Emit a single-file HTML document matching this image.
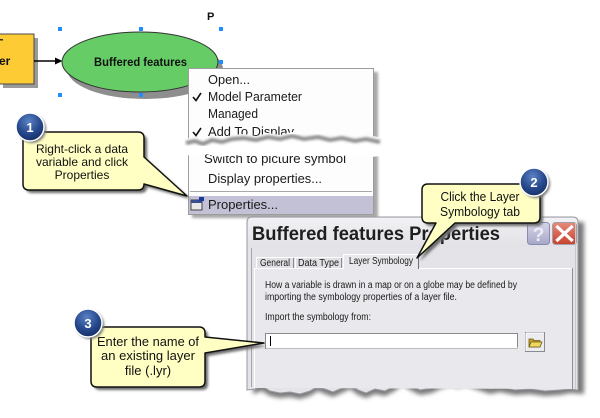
<!DOCTYPE html>
<html><head><meta charset="utf-8"><style>
html,body{margin:0;padding:0;background:#fff;}
svg{display:block;}
text{font-family:"Liberation Sans",Arial,sans-serif;}
</style></head><body>
<svg width="600" height="418" viewBox="0 0 600 418" xmlns="http://www.w3.org/2000/svg">
<defs>
<filter id="blur2" x="-20%" y="-20%" width="140%" height="140%"><feGaussianBlur stdDeviation="2"/></filter>
<filter id="blur1" x="-20%" y="-20%" width="140%" height="140%"><feGaussianBlur stdDeviation="1.2"/></filter>
<radialGradient id="cg" cx="45%" cy="30%" r="75%">
<stop offset="0" stop-color="#5a82c4"/><stop offset="0.6" stop-color="#24468a"/><stop offset="1" stop-color="#142c60"/>
</radialGradient>
<linearGradient id="tb" x1="0" y1="0" x2="0" y2="1"><stop offset="0" stop-color="#f2f2f5"/><stop offset="1" stop-color="#e1e1e6"/></linearGradient>
<linearGradient id="hb" x1="0" y1="0" x2="0" y2="1"><stop offset="0" stop-color="#d6d6ea"/><stop offset="1" stop-color="#a7a7c8"/></linearGradient>
<linearGradient id="xb" x1="0" y1="0" x2="0" y2="1"><stop offset="0" stop-color="#e88a7a"/><stop offset="1" stop-color="#c8402e"/></linearGradient>
</defs>

<!-- Yellow tool box -->
<rect x="3" y="38" width="35" height="50" fill="#9a9a9a"/>
<rect x="-2" y="34" width="36" height="50" fill="#fdcb34" stroke="#4a4a4a" stroke-width="1"/>
<rect x="0" y="39" width="3" height="1.5" fill="#333"/>
<text x="-1" y="65" font-size="12" font-weight="bold" fill="#111">er</text>
<line x1="34" y1="61" x2="56" y2="61" stroke="#000" stroke-width="1.6"/>
<polygon points="55,57.5 62.5,61 55,64.5" fill="#000"/>

<!-- Ellipse -->
<ellipse cx="145" cy="69" rx="78" ry="30" fill="#8e8e8e"/>
<ellipse cx="140" cy="62" rx="78" ry="30" fill="#66cc66" stroke="#333" stroke-width="1"/>
<text x="94" y="66" font-size="11.5" font-weight="bold" fill="#111" textLength="93" lengthAdjust="spacingAndGlyphs">Buffered features</text>
<g fill="#1e8fff">
<rect x="58" y="27" width="4" height="4"/><rect x="139" y="27" width="4" height="4"/><rect x="219" y="27" width="4" height="4"/>
<rect x="58" y="93" width="4" height="4"/><rect x="139" y="93" width="4" height="4"/><rect x="219" y="60" width="4" height="4"/>
</g>
<text x="207" y="20" font-size="11" font-weight="bold" fill="#111">P</text>

<!-- Context menu -->
<rect x="192" y="72" width="186" height="146" fill="#a8a8a8" filter="url(#blur1)"/>
<rect x="188.5" y="68.5" width="185" height="146" fill="#fdfdfd" stroke="#9c9c9c" stroke-width="1"/>
<g font-size="12.5" fill="#1a1a1a">
<text x="208" y="84" textLength="42" lengthAdjust="spacingAndGlyphs">Open...</text>
<text x="208" y="101" textLength="94" lengthAdjust="spacingAndGlyphs">Model Parameter</text>
<text x="208" y="118" textLength="50" lengthAdjust="spacingAndGlyphs">Managed</text>
<text x="208" y="136" textLength="86" lengthAdjust="spacingAndGlyphs">Add To Display</text>
<text x="204" y="163" textLength="142" lengthAdjust="spacingAndGlyphs">Switch to picture symbol</text>
<text x="208" y="183" textLength="114" lengthAdjust="spacingAndGlyphs">Display properties...</text>
</g>
<g stroke="#111" stroke-width="1.6" fill="none">
<path d="M193,97 L196,100.5 L201,93"/>
<path d="M193,132 L196,135.5 L201,128"/>
</g>
<line x1="190" y1="191.5" x2="372" y2="191.5" stroke="#a8a8a8" stroke-width="1"/>
<line x1="190" y1="192.5" x2="372" y2="192.5" stroke="#ffffff" stroke-width="1"/>
<rect x="189" y="196" width="184" height="18" fill="#c3c1d5"/>
<text x="208" y="209" font-size="12.5" fill="#1a1a1a" textLength="70" lengthAdjust="spacingAndGlyphs">Properties...</text>
<rect x="191" y="200" width="11" height="10" fill="#e8e8e8" stroke="#444" stroke-width="1"/>
<rect x="191" y="200" width="11" height="3" fill="#3a4e8c"/>
<rect x="199" y="197" width="5" height="4" fill="#1a3a9a"/>
<!-- torn band -->
<path d="M184,139 L195,137 L203,140 L212,136 L222,138 L232,135 L244,134 L256,136 L268,133 L280,135 L292,132 L304,135 L318,133 L330,136 L342,134 L355,137 L366,135 L384,138 L384,156 L368,157 L355,155 L340,156 L325,154 L310,156 L295,155 L280,157 L265,154 L250,156 L235,155 L220,157 L205,154 L195,156 L184,155 Z" fill="#ffffff"/>
<path d="M186,143 L195,141 L203,144 L212,140 L222,142 L232,139 L244,138 L256,140 L268,137 L280,139 L292,136 L304,139 L318,137 L330,140 L342,138 L355,141 L366,139 L380,142" fill="none" stroke="#8e8e8e" stroke-width="4" filter="url(#blur1)"/>

<!-- Dialog shadow -->
<path d="M253,222 L584,222 L584,394 L570,393 L560,395 L545,396 L530,394 L515,395 L500,392 L490,394 L478,390 L466,386 L458,388 L450,386 L440,389 L432,393 L420,395 L410,390 L402,385 L395,391 L385,396 L375,394 L366,398 L358,395 L350,389 L342,393 L333,397 L325,394 L318,391 L310,396 L300,399 L290,397 L280,398 L270,396 L262,391 L253,394 Z" fill="#7a7a7a" filter="url(#blur2)"/>
<!-- Dialog body -->
<path d="M247,390 L247,222 Q247,217 252,217 L573,217 Q578,217 578,222 L578,390 L570,389 L560,390 L545,391 L530,389 L515,390 L500,387 L490,389 L478,385 L466,381 L458,383 L450,381 L440,384 L432,388 L420,390 L410,385 L402,380 L395,386 L385,391 L375,389 L366,393 L358,390 L350,384 L342,388 L333,392 L325,389 L318,386 L310,391 L300,394 L290,392 L280,393 L270,391 L262,386 L255,389 Z" fill="#e3e3e8" stroke="#9a9aa2" stroke-width="1"/>
<path d="M248,247 L248,222 Q248,218 252,218 L573,218 Q577,218 577,222 L577,247 Z" fill="url(#tb)"/>
<line x1="251.5" y1="248" x2="251.5" y2="387" stroke="#a6a6ae" stroke-width="1"/>
<text x="252" y="240" font-size="19" font-weight="bold" fill="#1e1e1e" textLength="248" lengthAdjust="spacingAndGlyphs">Buffered features Properties</text>
<!-- title buttons -->
<rect x="527.5" y="222.5" width="22" height="22" rx="3" fill="url(#hb)" stroke="#8a8ab0" stroke-width="1"/>
<text x="538.5" y="241" font-size="19" font-weight="bold" fill="#eeeef6" text-anchor="middle">?</text>
<rect x="552.5" y="222.5" width="24" height="22" rx="3" fill="url(#xb)" stroke="#a0a0a8" stroke-width="1"/>
<path d="M557.5,227 L571.5,240 M571.5,227 L557.5,240" stroke="#ffffff" stroke-width="3.2" stroke-linecap="square"/>
<!-- panel -->
<path d="M254,388 L254,268 L573,268 L573,389" fill="#e9e9ed" stroke="none"/>
<path d="M254.5,388 L254.5,268.5 L343,268.5 M419,268.5 L572.5,268.5" stroke="#ffffff" stroke-width="1" fill="none"/>
<line x1="572.5" y1="268" x2="572.5" y2="389" stroke="#8e8e96" stroke-width="1"/>
<line x1="575.5" y1="222" x2="575.5" y2="389" stroke="#c8c8ce" stroke-width="1"/>
<!-- tabs -->
<path d="M256.5,268 L256.5,257.5 L293.5,257.5 L293.5,268" fill="#e0e0e5" stroke="#ffffff" stroke-width="1"/>
<line x1="293.5" y1="258" x2="293.5" y2="268" stroke="#8a8a92"/>
<path d="M295.5,268 L295.5,257.5 L341.5,257.5 L341.5,268" fill="#e0e0e5" stroke="#ffffff" stroke-width="1"/>
<line x1="341.5" y1="258" x2="341.5" y2="268" stroke="#8a8a92"/>
<path d="M343.5,269 L343.5,254.5 L418.5,254.5 L418.5,269" fill="#e9e9ed" stroke="#ffffff" stroke-width="1"/>
<line x1="418.5" y1="255" x2="418.5" y2="269" stroke="#6e6e76"/>
<g font-size="10" fill="#1a1a1a">
<text x="260" y="266" textLength="30" lengthAdjust="spacingAndGlyphs">General</text>
<text x="298" y="266" textLength="41" lengthAdjust="spacingAndGlyphs">Data Type</text>
<text x="349" y="264" textLength="64" lengthAdjust="spacingAndGlyphs">Layer Symbology</text>
<text x="265" y="288" textLength="252" lengthAdjust="spacingAndGlyphs">How a variable is drawn in a map or on a globe may be defined by</text>
<text x="265" y="300" textLength="192" lengthAdjust="spacingAndGlyphs">importing the symbology properties of a layer file.</text>
<text x="265" y="320" textLength="106" lengthAdjust="spacingAndGlyphs">Import the symbology from:</text>
</g>
<!-- input -->
<rect x="265.5" y="333.5" width="252" height="15" fill="#ffffff" stroke="#8a8a8a" stroke-width="1"/>
<line x1="266" y1="348" x2="518" y2="348" stroke="#f4f4f0"/>
<line x1="270.5" y1="336" x2="270.5" y2="346" stroke="#000" stroke-width="1"/>
<!-- folder button -->
<rect x="525.5" y="332.5" width="19" height="19" fill="#ececf0" stroke="#8a8a92" stroke-width="1"/>
<line x1="526" y1="333" x2="544" y2="333" stroke="#fff"/>
<line x1="526" y1="333" x2="526" y2="351" stroke="#fff"/>
<path d="M529,339 L533,339 L534,340.5 L540,340.5 L540,347 L529,347 Z" fill="#c8a22a" stroke="#6a5a10" stroke-width="0.8"/>
<path d="M531,342 L542,342 L540,347 L529,347 Z" fill="#f0d860" stroke="#6a5a10" stroke-width="0.8"/>

<!-- Callout 1 -->
<path d="M29,132 H138 Q144,132 144,138 V157 L187,196 L144,184 Q144,190 138,190 H29 Q23,190 23,184 V138 Q23,132 29,132 Z" fill="#6a6a6a" transform="translate(3,3)" filter="url(#blur1)"/>
<path d="M29,132 H138 Q144,132 144,138 V157 L187,196 L144,184 Q144,190 138,190 H29 Q23,190 23,184 V138 Q23,132 29,132 Z" fill="#ffffc4" stroke="#111" stroke-width="1.5" stroke-linejoin="round"/>
<g font-size="12" fill="#111" text-anchor="middle">
<text x="82" y="153">Right-click a data</text>
<text x="82" y="166">variable and click</text>
<text x="82" y="179">Properties</text>
</g>
<circle cx="32" cy="129" r="14" fill="#777" filter="url(#blur1)"/>
<circle cx="30" cy="127" r="14" fill="url(#cg)" stroke="#ffffff" stroke-width="1.5"/>
<text x="30" y="132" font-size="13" font-weight="bold" fill="#fff" text-anchor="middle">1</text>

<!-- Callout 2 -->
<path d="M428,184 H534 Q540,184 540,190 V217 Q540,223 534,223 H455 L417,258 L436,223 H428 Q422,223 422,217 V190 Q422,184 428,184 Z" fill="#6a6a6a" transform="translate(3,3)" filter="url(#blur1)"/>
<path d="M428,184 H534 Q540,184 540,190 V217 Q540,223 534,223 H455 L417,258 L436,223 H428 Q422,223 422,217 V190 Q422,184 428,184 Z" fill="#ffffc4" stroke="#111" stroke-width="1.5" stroke-linejoin="round"/>
<g font-size="13" fill="#111" text-anchor="middle">
<text x="480" y="201" textLength="79" lengthAdjust="spacingAndGlyphs">Click the Layer</text>
<text x="480" y="216" textLength="80" lengthAdjust="spacingAndGlyphs">Symbology tab</text>
</g>
<circle cx="536" cy="184" r="14" fill="#777" filter="url(#blur1)"/>
<circle cx="534" cy="182" r="14" fill="url(#cg)" stroke="#ffffff" stroke-width="1.5"/>
<text x="534" y="187" font-size="13" font-weight="bold" fill="#fff" text-anchor="middle">2</text>

<!-- Callout 3 -->
<path d="M97,327 H199 Q205,327 205,333 V337 L264,343 L205,353 V381 Q205,387 199,387 H97 Q91,387 91,381 V333 Q91,327 97,327 Z" fill="#6a6a6a" transform="translate(3,3)" filter="url(#blur1)"/>
<path d="M97,327 H199 Q205,327 205,333 V337 L264,343 L205,353 V381 Q205,387 199,387 H97 Q91,387 91,381 V333 Q91,327 97,327 Z" fill="#ffffc4" stroke="#111" stroke-width="1.5" stroke-linejoin="round"/>
<g font-size="13" fill="#111" text-anchor="middle">
<text x="148" y="346" textLength="102" lengthAdjust="spacingAndGlyphs">Enter the name of</text>
<text x="148" y="360">an existing layer</text>
<text x="148" y="375">file (.lyr)</text>
</g>
<circle cx="90" cy="325" r="14" fill="#777" filter="url(#blur1)"/>
<circle cx="88" cy="323" r="14" fill="url(#cg)" stroke="#ffffff" stroke-width="1.5"/>
<text x="88" y="328" font-size="13" font-weight="bold" fill="#fff" text-anchor="middle">3</text>
</svg>
</body></html>
